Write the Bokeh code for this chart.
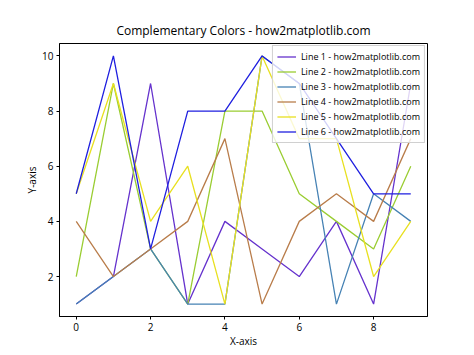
from bokeh.plotting import figure
from bokeh.models import Range1d, FixedTicker, Legend, LegendItem
from bokeh.embed import file_html
from bokeh.resources import INLINE

x = [0, 1, 2, 3, 4, 5, 6, 7, 8, 9]
line1 = [1, 2, 9, 1, 4, 3, 2, 4, 1, 9]
line2 = [2, 9, 3, 1, 8, 8, 5, 4, 3, 6]
line3 = [1, 2, 3, 1, 1, 10, 9, 1, 5, 4]
line4 = [4, 2, 3, 4, 7, 1, 4, 5, 4, 7]
line5 = [5, 9, 4, 6, 1, 10, 7, 7, 2, 4]
line6 = [5, 10, 3, 8, 8, 10, 9, 7, 5, 5]
series = [line1, line2, line3, line4, line5, line6]
labels = ["Line 1 - how2matplotlib.com", "Line 2 - how2matplotlib.com",
          "Line 3 - how2matplotlib.com", "Line 4 - how2matplotlib.com",
          "Line 5 - how2matplotlib.com", "Line 6 - how2matplotlib.com"]
colors = ["#6532cd", "#9acd32", "#4682b4", "#b97d4b", "#e8e020", "#1f1fdf"]
x_ticks = [0, 2, 4, 6, 8]
y_ticks = [2, 4, 6, 8, 10]

FONT = "Open Sans"

p = figure(width=474, height=355, output_backend="svg", toolbar_location=None,
           x_range=Range1d(-0.45, 9.45), y_range=Range1d(0.55, 10.45),
           min_border_left=59, min_border_right=47, min_border_top=43,
           min_border_bottom=39, background_fill_color="white",
           border_fill_color="white")

p.title.text = "Complementary Colors - how2matplotlib.com"
p.title.align = "center"
p.title.text_font = FONT
p.title.text_font_size = "12px"
p.title.text_font_style = "normal"
p.title.text_color = "black"
p.title.offset = 0

items = []
for ys, c, lab in zip(series, colors, labels):
    r = p.line(x, ys, line_color=c, line_width=1.3)
    items.append(LegendItem(label=lab, renderers=[r]))

legend = Legend(items=items, location="top_right")
legend.label_text_font = FONT
legend.label_text_font_size = "9px"
legend.label_text_color = "black"
legend.label_height = 9
legend.glyph_height = 9
legend.glyph_width = 19
legend.spacing = 2
legend.padding = 4
legend.margin = 2
legend.label_standoff = 5
legend.border_line_color = "#d0d0d0"
legend.border_line_alpha = 1
legend.background_fill_alpha = 0.8
p.add_layout(legend)

p.xgrid.visible = False
p.ygrid.visible = False
p.outline_line_color = "black"
p.outline_line_width = 1

p.xaxis.ticker = FixedTicker(ticks=x_ticks)
p.yaxis.ticker = FixedTicker(ticks=y_ticks)
for ax in (p.xaxis, p.yaxis):
    ax.minor_tick_line_color = None
    ax.major_tick_in = 0
    ax.major_tick_out = 3
    ax.major_label_text_font = FONT
    ax.major_label_text_font_size = "10px"
    ax.major_label_text_color = "black"
    ax.axis_label_text_font = FONT
    ax.axis_label_text_font_size = "10px"
    ax.axis_label_text_font_style = "normal"
    ax.axis_label_text_color = "black"
    ax.axis_line_color = "black"
    ax.major_tick_line_color = "black"
p.xaxis.axis_label = "X-axis"
p.yaxis.axis_label = "Y-axis"
p.xaxis.axis_label_standoff = 0
p.yaxis.axis_label_standoff = 0
p.xaxis.major_label_standoff = 3
p.yaxis.major_label_standoff = 3

open("out.html", "w").write(file_html(p, INLINE))
